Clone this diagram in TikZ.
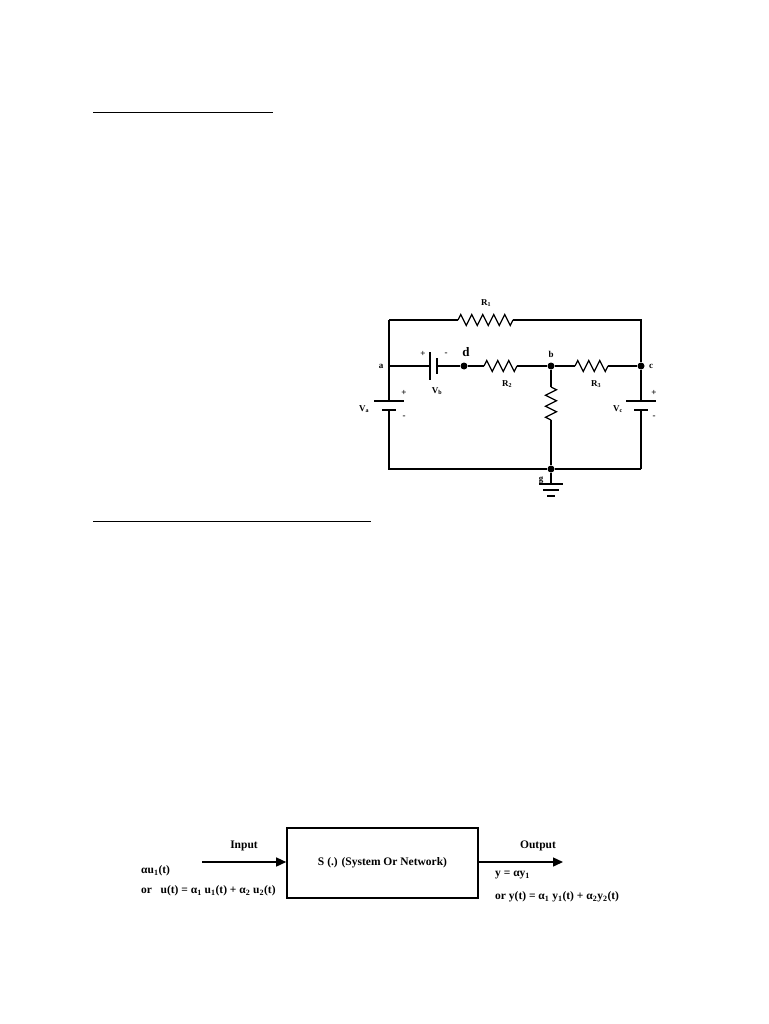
\documentclass[tikz,border=0pt]{standalone}
\usepackage{fontspec}
\setmainfont{Liberation Serif}
\usetikzlibrary{decorations.pathmorphing,arrows.meta}
\begin{document}
\begin{tikzpicture}[x=1pt,y=-1pt,
  wire/.style={line width=1.3pt},
  res/.style={line width=1.3pt,decorate,decoration={zigzag,segment length=11pt,amplitude=5.5pt}},
  dot/.style={circle,fill=black,inner sep=0pt,minimum size=7pt},
  lbl/.style={font=\bfseries\fontsize{9}{10}\selectfont,inner sep=1pt},
  blbl/.style={font=\bfseries\fontsize{11.5}{13}\selectfont,inner sep=1pt},
  arr/.style={line width=1.4pt,-{Triangle[length=10pt,width=9pt]}}]
\useasboundingbox (0,0) rectangle (768,1024);
% heading rules
\draw[line width=1pt] (93,113) coordinate (h1a) -- (273,113) coordinate (h1b);
\draw[line width=1pt] (93,521) coordinate (h2a) -- (371,521) coordinate (h2b);
% circuit coordinates
\coordinate (tl) at (389,320); \coordinate (tr) at (641,320);
\coordinate (a) at (389,366); \coordinate (gl) at (389,469);
\coordinate (gr) at (641,469);
\node[dot] (d) at (464,366) {};
\node[dot] (b) at (551,366) {};
\node[dot] (c) at (641,366) {};
\node[dot] (g) at (551,469) {};
% top with R1
\draw[wire] (tl) -- (458,320) coordinate (r1a);
\draw[res] (r1a) -- (513,320) coordinate (r1b);
\draw[wire] (r1b) -- (tr) -- (c);
% middle branch
\draw[wire] (a) -- (430,366) coordinate (vbl);
\draw[wire] (430,352) -- (430,380);
\draw[wire] (437,358) -- (437,374);
\draw[wire] (437,366) coordinate (vbr) -- (d) -- (484,366) coordinate (r2a);
\draw[res] (r2a) -- (517,366) coordinate (r2b);
\draw[wire] (r2b) -- (b) -- (575,366) coordinate (r3a);
\draw[res] (r3a) -- (608,366) coordinate (r3b);
\draw[wire] (r3b) -- (c);
% left column with Va
\draw[wire] (tl) -- (a) -- (389,401) coordinate (vat);
\draw[wire] (374,401) -- (404,401);
\draw[wire] (382,410) -- (396,410);
\draw[wire] (389,410) coordinate (vab) -- (gl) -- (g) -- (gr);
% right column with Vc
\draw[wire] (c) -- (641,401) coordinate (vct);
\draw[wire] (626,401) -- (656,401);
\draw[wire] (634,410) -- (648,410);
\draw[wire] (641,410) coordinate (vcb) -- (gr);
% vertical resistor
\draw[wire] (b) -- (551,387) coordinate (r4a);
\draw[res] (r4a) -- (551,420) coordinate (r4b);
\draw[wire] (r4b) -- (g);
% ground
\draw[wire] (g) -- (551,484) coordinate (gnd);
\draw[wire] (539,484) -- (563,484);
\draw[wire] (543,490) -- (559,490);
\draw[wire] (547,496) -- (555,496);
% labels
\node[lbl] at (486,303) {R\textsubscript{1}};
\node[lbl] at (381,366) {a};
\node[lbl] at (651,366) {c};
\node[lbl] at (551,354) {b};
\node[font=\bfseries\fontsize{13}{15}\selectfont] at (466,352) {d};
\node[lbl] at (507,384) {R\textsubscript{2}};
\node[lbl] at (596,384) {R\textsubscript{3}};
\node[lbl] at (437,391) {V\textsubscript{b}};
\node[lbl] at (423,354) {+};
\node[lbl] at (446,354) {-};
\node[lbl] at (364,409) {V\textsubscript{a}};
\node[lbl] at (404,393) {+};
\node[lbl] at (404,417) {-};
\node[lbl] at (618,409) {V\textsubscript{c}};
\node[lbl] at (654,393) {+};
\node[lbl] at (654,417) {-};
\node[lbl] at (541,480) {g};
% block diagram
\node[draw,line width=1.6pt,minimum width=191pt,minimum height=70pt,blbl] (sys) at (382.5,863) {S (.) (System Or Network)};
\coordinate (in) at (202,862);
\coordinate (out) at (563,862);
\draw[arr] (in) -- (sys.west |- in);
\draw[arr] (sys.east |- out) -- (out);
\node[blbl] at (244,846) {Input};
\node[blbl] at (538,846) {Output};
\node[blbl,anchor=west] at (140,871) {αu\textsubscript{1}(t)};
\node[blbl,anchor=west] at (140,891) {or\ \ \ u(t) = α\textsubscript{1}\ u\textsubscript{1}(t) + α\textsubscript{2} u\textsubscript{2}(t)};
\node[blbl,anchor=west] at (494,875) {y = αy\textsubscript{1}};
\node[blbl,anchor=west] at (494,897) {or y(t) = α\textsubscript{1} y\textsubscript{1}(t) + α\textsubscript{2}y\textsubscript{2}(t)};
\end{tikzpicture}
\end{document}
